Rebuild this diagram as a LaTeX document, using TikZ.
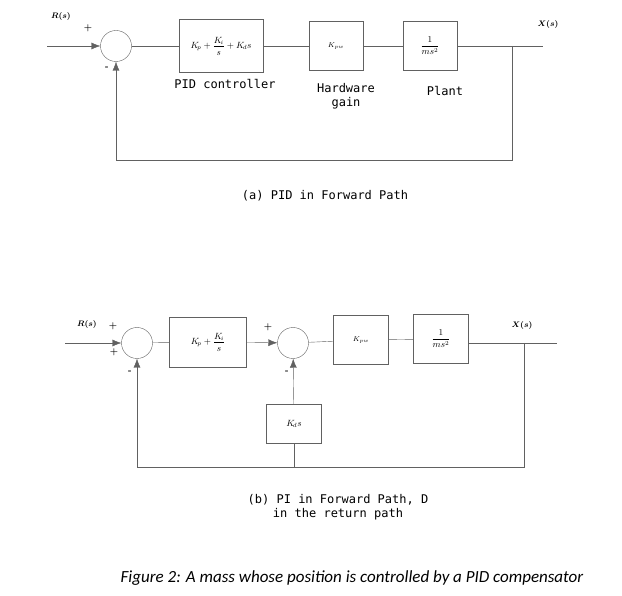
\documentclass[tikz,border=0pt]{standalone}
\usepackage{fontspec}
\usepackage{amsmath}
\usetikzlibrary{positioning,arrows.meta}
\newfontfamily\labelfont{DejaVu Sans Mono}
\newfontfamily\capfont{Carlito}
\newcommand{\mylinegray}{black!62}
\tikzset{
 blk/.style = {draw = \mylinegray, thin, inner sep = 0pt},
 sumpt/.style = {draw = \mylinegray, thin, circle, minimum size = 31pt, inner sep = 0pt},
 sig/.style = {\mylinegray, thin},
 fb/.style = {\mylinegray, thin, -{Latex[length=9pt,width=7pt]}},
 lbl/.style = {font = \labelfont\fontsize{12}{14}\selectfont, align = center},
 sgn/.style = {font = \small\bfseries}
}
\begin{document}
\begin{tikzpicture}[x=1pt, y=-1pt]
\useasboundingbox (0,0) rectangle (622,596);
\begin{scope}
% (a) PID in forward path
\coordinate (ain) at (47,46);
\node[sumpt] (as) at (116,46) {};
\node[blk, minimum width = 84pt, minimum height = 53pt] (apid) at (221,46) {\small $K_{\!p}+\dfrac{K_{\!i}}{s}+K_{\!d}s$};
\node[blk, minimum width = 54pt, minimum height = 49pt] (akpw) at (336,46) {\scriptsize $K_{pw}$};
\node[blk, minimum width = 54pt, minimum height = 49pt] (aplant) at (430,46) {\small $\dfrac{1}{ms^2}$};
\coordinate (aout) at (543,46);
\coordinate (abr) at (512,46);
\coordinate (abot) at (512,160);
\draw[fb] (ain) -- (as);
\draw[sig] (as) -- (apid);
\draw[sig] (apid) -- (akpw);
\draw[sig] (akpw) -- (aplant);
\draw[sig] (aplant) -- (aout);
\draw[fb] (abr) -- (abot) -| (as);
\node[font = \footnotesize] at (61,17) {$\boldsymbol{R(s)}$};
\node[font = \footnotesize] at (548,25) {$\boldsymbol{X(s)}$};
\node[sgn] at (88,28) {+};
\node[sgn] at (107,68) {-};
\node[lbl] at (225,84) {PID controller};
\node[lbl] at (346,96) {Hardware\\gain};
\node[lbl] at (445,91) {Plant};
\node[lbl] at (325,196) {(a) PID in Forward Path};
\end{scope}
\begin{scope}
% (b) PI in forward path, D in the return path
\coordinate (bin) at (65,343);
\node[sumpt] (bs1) at (137,343) {};
\node[blk, minimum width = 77pt, minimum height = 50pt] (bpi) at (208,342) {\small $K_{\!p}+\dfrac{K_{\!i}}{s}$};
\node[sumpt] (bs2) at (293,343) {};
\node[blk, minimum width = 55pt, minimum height = 49pt] (bkpw) at (361,340) {\scriptsize $K_{pw}$};
\node[blk, minimum width = 55pt, minimum height = 49pt] (bplant) at (441,339) {\small $\dfrac{1}{ms^2}$};
\node[blk, minimum width = 55pt, minimum height = 39pt] (bkd) at (294,424) {\small $K_{\!d}s$};
\coordinate (bout) at (557,343);
\coordinate (bbr) at (524,343);
\coordinate (bbot) at (524,467);
\coordinate (bmid) at (294,467);
\draw[fb] (bin) -- (bs1);
\draw[sig] (bs1) -- (bpi);
\draw[fb] (bpi) -- (bs2);
\draw[sig] (bs2) -- (bkpw);
\draw[sig] (bkpw) -- (bplant);
\draw[sig] (bplant.east |- bout) -- (bout);
\draw[fb] (bbr) -- (bbot) -| (bs1);
\draw[sig] (bmid) -- (bkd);
\draw[fb] (bkd) -- (bs2);
\node[font = \footnotesize] at (87,325) {$\boldsymbol{R(s)}$};
\node[font = \footnotesize] at (522,326) {$\boldsymbol{X(s)}$};
\node[sgn] at (113,326) {+};
\node[sgn] at (114,352) {+};
\node[sgn] at (130,372) {-};
\node[sgn] at (268,327) {+};
\node[sgn] at (287,372) {-};
\node[lbl] at (338,507) {(b) PI  in Forward Path, D\\in the return path};
\end{scope}
\node[font = \capfont\itshape\fontsize{17}{20}\selectfont] at (352,578) {Figure 2: A mass whose position is controlled by a PID compensator};
\end{tikzpicture}
\end{document}
